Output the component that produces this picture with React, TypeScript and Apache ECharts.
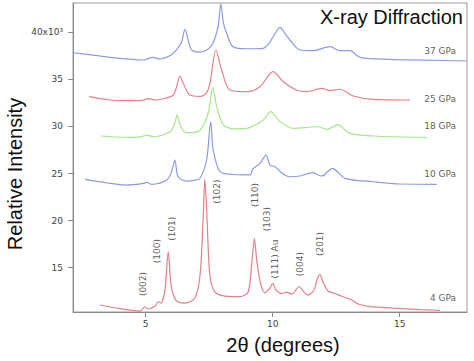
import React, { useEffect, useRef } from 'react';
import * as echarts from 'echarts';

// ---- data (2θ in degrees, intensity in 10^3 counts, offset per pressure) ----
const xTickValues = [5, 10, 15];
const yTickValues = [15, 20, 25, 30, 35, 40];

const gpa37: [number, number][] = [
  [2.14, 37.83], [3.0, 37.55], [3.59, 37.34], [4.3, 37.15], [4.91, 37.06], [5.28, 37.34], [5.56, 37.16],
  [5.95, 37.5], [6.15, 37.94], [6.4, 38.9], [6.55, 40.32], [6.7, 38.9], [6.81, 38.12], [7.14, 37.9],
  [7.45, 38.2], [7.65, 38.83], [7.85, 40.6], [7.96, 43.0], [8.06, 41.0], [8.19, 39.89], [8.44, 38.47],
  [9.0, 38.25], [9.63, 38.3], [9.85, 38.8], [10.02, 39.53], [10.29, 40.53], [10.5, 39.8], [10.68, 39.18],
  [11.07, 38.12], [11.6, 38.05], [12.26, 38.47], [12.65, 38.05], [13.04, 38.05], [13.44, 37.34],
  [14.62, 37.13], [16.0, 37.05], [17.64, 36.95],
];

const gpa25: [number, number][] = [
  [2.78, 33.16], [3.59, 32.81], [4.3, 32.74], [4.78, 32.74], [5.14, 32.95], [5.37, 32.81], [5.8, 33.0],
  [6.09, 33.34], [6.22, 34.22], [6.35, 35.36], [6.48, 34.58], [6.74, 33.34], [7.14, 33.2], [7.4, 33.6],
  [7.53, 34.58], [7.77, 38.12], [7.99, 36.0], [8.32, 33.87], [8.98, 33.69], [9.5, 34.22], [10.02, 35.82],
  [10.42, 34.75], [10.94, 33.87], [11.34, 33.69], [11.93, 34.05], [12.26, 33.8], [12.65, 33.95],
  [13.17, 33.24], [13.96, 32.88], [15.41, 32.81],
];

const gpa18: [number, number][] = [
  [3.23, 28.99], [4.25, 28.85], [4.8, 28.9], [5.06, 29.09], [5.3, 28.91], [5.96, 29.44], [6.15, 30.34],
  [6.24, 31.22], [6.38, 30.0], [6.61, 29.34], [7.14, 29.6], [7.46, 31.4], [7.64, 34.16], [7.8, 32.1],
  [8.06, 30.16], [8.5, 29.75], [8.98, 29.8], [9.63, 30.69], [9.92, 31.57], [10.29, 30.51], [10.81, 29.8],
  [11.76, 29.97], [12.15, 29.7], [12.56, 30.16], [13.04, 29.27], [13.96, 28.99], [16.06, 28.85],
];

const gpa10: [number, number][] = [
  [2.61, 24.39], [3.5, 24.0], [4.25, 23.78], [4.91, 23.96], [5.04, 24.07], [5.24, 23.86], [5.83, 24.31],
  [6.02, 25.2], [6.15, 26.44], [6.28, 24.66], [6.61, 24.2], [6.94, 24.3], [7.14, 24.5], [7.4, 26.44],
  [7.56, 30.51], [7.66, 27.5], [7.93, 25.2], [8.44, 24.9], [9.11, 24.85], [9.22, 25.5], [9.5, 26.09],
  [9.74, 26.97], [9.89, 25.91], [10.09, 25.73], [10.35, 25.09], [10.68, 24.66], [11.07, 24.74],
  [11.57, 25.09], [11.93, 24.74], [12.35, 25.56], [12.85, 24.49], [13.96, 24.13], [15.01, 23.89],
  [16.46, 23.86],
];

const gpa4: [number, number][] = [
  [3.2, 11.04], [3.99, 10.65], [4.78, 10.4], [4.97, 10.86], [5.09, 10.62], [5.37, 10.93], [5.5, 11.39],
  [5.6, 11.25], [5.76, 12.63], [5.89, 16.7], [6.0, 13.16], [6.19, 11.57], [6.55, 11.25], [6.94, 11.78],
  [7.14, 14.2], [7.26, 20.06], [7.33, 24.4], [7.41, 20.6], [7.53, 14.2], [7.73, 12.4], [8.12, 11.99],
  [8.71, 11.94], [9.03, 12.4], [9.19, 15.8], [9.28, 18.1], [9.38, 15.6], [9.54, 13.16], [9.7, 12.35],
  [9.89, 12.84], [10.0, 13.34], [10.13, 12.63], [10.37, 12.26], [10.56, 12.42], [10.76, 12.2],
  [11.04, 12.98], [11.23, 12.42], [11.39, 12.1], [11.63, 12.63], [11.74, 13.7], [11.86, 14.3],
  [11.98, 13.48], [12.18, 12.53], [12.45, 12.26], [12.77, 11.92], [13.11, 11.57], [13.36, 11.15],
  [13.83, 10.88], [14.74, 10.72], [15.8, 10.56], [16.59, 10.46],
];

const pressureNames = ['37 GPa', '25 GPa', '18 GPa', '10 GPa', '4 GPa'];
const pressureLabelAt: [number, number][] = [
  [17.22, 38.05], [17.22, 32.92], [17.22, 30.05], [17.22, 24.95], [17.22, 11.75],
];

const peakNames = ['(002)', '(100)', '(101)', '(102)', '(110)', '(103)', '(111) Au', '(004)', '(201)'];
const peakLabelAt: [number, number][] = [
  [4.88, 13.27], [5.46, 16.77], [6.02, 19.14], [7.82, 23.09], [9.3, 22.72], [9.76, 20.17],
  [10.09, 15.92], [11.07, 15.39], [11.86, 17.52],
];

const BLUE = '#8c9be4';
const RED = '#e57f8c';
const GREEN = '#a3e88a';
const TICK_FONT = 'DejaVu Sans';
const TITLE_FONT = 'Liberation Sans';

export default function App() {
  const ref = useRef<HTMLDivElement>(null);

  useEffect(() => {
    if (!ref.current) return;
    const chart = echarts.init(ref.current, undefined, { renderer: 'svg' });

    const curves = [
      { name: '37 GPa', data: gpa37, color: BLUE },
      { name: '25 GPa', data: gpa25, color: RED },
      { name: '18 GPa', data: gpa18, color: GREEN },
      { name: '10 GPa', data: gpa10, color: BLUE },
      { name: '4 GPa', data: gpa4, color: RED },
    ];

    const lineSeries = curves.map((c) => ({
      type: 'line',
      name: c.name,
      data: c.data,
      showSymbol: false,
      smooth: 0.3,
      clip: true,
      lineStyle: { color: c.color, width: 1.2 },
      itemStyle: { color: c.color },
    }));

    const pressureSeries = {
      type: 'scatter',
      symbolSize: 0,
      silent: true,
      data: pressureNames.map((n, i) => ({
        value: pressureLabelAt[i],
        label: { formatter: n },
      })),
      label: {
        show: true,
        position: 'left',
        distance: 0,
        color: '#333',
        fontFamily: TICK_FONT,
        fontSize: 9,
      },
    };

    const peakSeries = {
      type: 'scatter',
      symbolSize: 0,
      silent: true,
      data: peakNames.map((n, i) => ({
        value: peakLabelAt[i],
        label: { formatter: n },
      })),
      label: {
        show: true,
        position: 'inside',
        rotate: 90,
        color: '#333',
        fontFamily: TICK_FONT,
        fontSize: 9,
      },
    };

    chart.setOption({
      animation: false,
      grid: {
        left: 73,
        top: 3,
        right: 7,
        bottom: 49,
        show: true,
        borderColor: '#9a9a9a',
        borderWidth: 1,
        backgroundColor: 'transparent',
      },
      xAxis: {
        type: 'value',
        min: 2.14,
        max: 17.65,
        splitLine: { show: false },
        axisLine: { show: true, onZero: false, lineStyle: { color: '#8a8a8a' } },
        axisTick: { show: true, length: 5, customValues: xTickValues, lineStyle: { color: '#8a8a8a' } },
        axisLabel: {
          customValues: xTickValues,
          margin: 7,
          color: '#444',
          fontFamily: TICK_FONT,
          fontSize: 9,
        },
      },
      yAxis: {
        type: 'value',
        min: 10.3,
        max: 43.11,
        splitLine: { show: false },
        axisLine: { show: true, onZero: false, lineStyle: { color: '#8a8a8a' } },
        axisTick: { show: true, length: 5, customValues: yTickValues, lineStyle: { color: '#8a8a8a' } },
        axisLabel: {
          customValues: yTickValues,
          margin: 10,
          color: '#444',
          fontFamily: TICK_FONT,
          fontSize: 9,
          formatter: (v: number) => (v === 40 ? '40x10³' : String(v)),
        },
      },
      graphic: [
        {
          type: 'text',
          x: 463,
          y: 17,
          style: {
            text: 'X-ray Diffraction',
            fontFamily: TITLE_FONT,
            fontSize: 20,
            fill: '#111',
            align: 'right',
            verticalAlign: 'middle',
          },
        },
        {
          type: 'text',
          x: 283,
          y: 345,
          style: {
            text: '2θ (degrees)',
            fontFamily: TITLE_FONT,
            fontSize: 20,
            fill: '#111',
            align: 'center',
            verticalAlign: 'middle',
          },
        },
        {
          type: 'text',
          x: 14.5,
          y: 174,
          rotation: Math.PI / 2,
          style: {
            text: 'Relative Intensity',
            fontFamily: TITLE_FONT,
            fontSize: 20,
            fill: '#111',
            align: 'center',
            verticalAlign: 'middle',
          },
        },
      ],
      series: [...lineSeries, pressureSeries, peakSeries],
    });

    return () => chart.dispose();
  }, []);

  return <div ref={ref} style={{ width: 474, height: 361, position: 'absolute', left: 0, top: 0 }} />;
}
